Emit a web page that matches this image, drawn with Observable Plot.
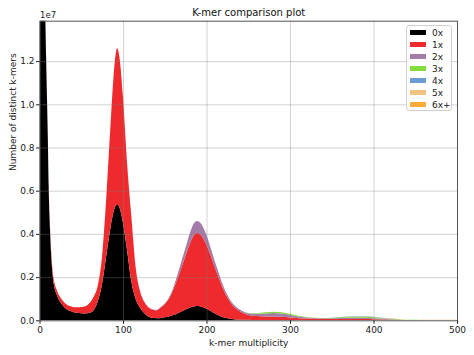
<!DOCTYPE html>
<html>
<head>
<meta charset="utf-8">
<script src="https://cdn.jsdelivr.net/npm/d3@7"></script>
<script src="https://cdn.jsdelivr.net/npm/@observablehq/plot@0.6"></script>
<style>
  body { margin: 0; background: #fff; }
  #wrap { position: relative; width: 474px; height: 355px; font-family: "DejaVu Sans", sans-serif; }
  #legend { position: absolute; left: 406px; top: 25px; width: 46px; height: 86px; border: 1px solid #d0d0d0; border-radius: 3px; background: rgba(255,255,255,0.85); box-sizing: border-box; }
  .row { position: absolute; left: 0; height: 12px; }
  .sw { position: absolute; left: 3px; width: 16px; height: 5.5px; }
  .lb { position: absolute; left: 25px; font-size: 9px; color: #222; line-height: 12px; white-space: nowrap; }
</style>
</head>
<body>
<div id="wrap"><div id="chart"></div><div id="legend"></div></div>
<script>
// k-mer multiplicity sample positions (shared by 0x, 1x, 2x)
const mult = [0,1,2,3,4,5,6,7,8,9,10,11,12,13,14,16,18,20,24,28,32,36,40,45,50,55,60,65,70,75,80,85,90,93,96,100,105,110,115,120,125,130,135,140,145,150,155,160,165,170,175,180,185,188,192,196,200,205,210,215,220,225,230,240,250,260,270,280,290,300,310,320,330,340,350,360,370,380,390,400,410,420,430,440,450,460,470,480,490,500];
// values in units of 1e7 distinct k-mers
const copy0x = [20,8,5,3.5,2.6,2.0,1.6,1.4,1.2,1.02,0.84,0.62,0.48,0.38,0.3,
  0.2,0.15,0.125,
  0.09,0.068,0.052,0.044,0.039,
  0.035,0.033,0.032,0.035,0.048,0.09,0.17,0.3,0.43,0.52,
  0.537,0.52,0.45,
  0.32,0.18,0.1,0.06,0.035,0.018,0.012,0.01,
  0.011,0.014,0.018,0.024,0.032,0.041,0.05,0.058,0.064,
  0.066,0.065,0.06,0.053,
  0.043,0.032,0.022,0.014,0.009,0.006,
  0.003,0.002,0.001,0.001,0.001,0.001,0.001,0,0,0,0,0,0,0,0,0,0,0,0,0,0,0,0,0,0,0,0];
const copy1x = [0,0.01,0.01,0.01,0.01,0.01,0.01,0.012,0.012,0.013,0.014,0.015,0.016,0.017,0.018,
  0.02,0.021,0.022,
  0.022,0.022,0.022,0.022,0.023,
  0.025,0.028,0.033,0.045,0.062,0.075,0.13,0.27,0.47,0.67,
  0.723,0.69,0.58,
  0.40,0.30,0.15,0.08,0.053,0.044,0.038,0.036,
  0.047,0.061,0.082,0.116,0.158,0.204,0.25,0.297,0.331,
  0.339,0.335,0.32,0.297,
  0.257,0.213,0.173,0.131,0.096,0.069,
  0.039,0.023,0.019,0.017,0.017,0.015,0.012,0.01,0.008,0.007,0.006,0.006,0.006,0.006,0.006,0.006,0.005,0.004,0.003,0.002,0.001,0.001,0,0,0,0,0];
const copy2x = [0,0,0,0,0,0,0,0,0,0,0,0,0,0,0,
  0,0,0,
  0,0,0,0,0,
  0,0,0,0,0,0,0,0,0,0,
  0,0,0,
  0.003,0.004,0.004,0.003,0.002,0.002,0.002,0.002,
  0.003,0.004,0.006,0.01,0.018,0.028,0.038,0.048,0.054,
  0.055,0.054,0.05,0.045,
  0.035,0.027,0.02,0.015,0.012,0.01,
  0.008,0.008,0.01,0.014,0.016,0.015,0.012,0.008,0.005,0.004,0.004,0.004,0.005,0.006,0.006,0.006,0.005,0.004,0.002,0.001,0,0,0,0,0,0,0];
// higher copy numbers only appear in the tail
const tailMult = [240,250,260,270,280,290,300,310,320,330,340,350,360,370,380,390,400,410,420,430,440,450,460,470,480,490,500];
const copy3x = [0,0.001,0.003,0.005,0.006,0.006,0.005,0.003,0.002,0.001,0.001,0.002,0.003,0.004,0.005,0.005,0.004,0.003,0.002,0.002,0.001,0.001,0.001,0.001,0.001,0.001,0.001];
const copy4x = [0,0,0,0,0,0,0,0,0,0,0,0,0.001,0.002,0.002,0.002,0.002,0.001,0.001,0,0,0,0,0,0,0,0];
const copy5x = [0,0,0,0,0,0,0,0,0,0,0,0,0,0,0.001,0.001,0.001,0.001,0.001,0.001,0.001,0.001,0.001,0.001,0.001,0.001,0.001];
const copy6x = [0,0,0,0,0,0,0,0,0,0,0,0,0,0,0,0,0,0,0,0,0,0,0,0,0,0,0];

const seriesNames = ["0x","1x","2x","3x","4x","5x","6x+"];
const seriesColors = ["#000000","#ee2a2c","#a47ca8","#84db3c","#6e9bd3","#f2c47f","#fdac3a"];
const xTicks = [0,100,200,300,400,500];
const yTicks = [0,0.2,0.4,0.6,0.8,1.0,1.2];

const table = [];
[[copy0x, mult],[copy1x, mult],[copy2x, mult],[copy3x, tailMult],[copy4x, tailMult],[copy5x, tailMult],[copy6x, tailMult]]
  .forEach(([vals, xs], i) => vals.forEach((v, j) => table.push({mult: xs[j], count: v, copy: seriesNames[i]})));

const chart = Plot.plot({
  width: 474, height: 355,
  marginTop: 20.7, marginLeft: 39.5, marginRight: 17, marginBottom: 34.7,
  style: {fontFamily: "DejaVu Sans", fontSize: "9px", color: "#222", background: "#fff"},
  x: {domain: [0, 500]},
  y: {domain: [0, 1.387]},
  color: {domain: seriesNames, range: seriesColors},
  marks: [
    Plot.areaY(table, {x: "mult", y: "count", fill: "copy", z: "copy", order: seriesNames, curve: "monotone-x", clip: true}),
    Plot.gridX(xTicks.slice(1, -1), {stroke: "#808080", strokeOpacity: 0.35}),
    Plot.gridY(yTicks.slice(1), {stroke: "#808080", strokeOpacity: 0.35}),
    Plot.frame({stroke: "#555"}),
    Plot.axisX(xTicks, {label: null, tickSize: 3.5, tickPadding: 2, fontSize: 9}),
    Plot.axisY(yTicks, {label: null, tickSize: 3.5, tickPadding: 2, fontSize: 9, tickFormat: d => d.toFixed(1)}),
    Plot.text(["K-mer comparison plot"], {text: d => d, frameAnchor: "top", dy: -12, fontSize: 10, fill: "#111"}),
    Plot.text(["1e7"], {text: d => d, frameAnchor: "top-left", dy: -9, textAnchor: "start", fontSize: 8.5, fill: "#222"}),
    Plot.text(["Number of distinct k-mers"], {text: d => d, frameAnchor: "left", rotate: -90, dx: -27, fontSize: 9, fill: "#222"}),
    Plot.text(["k-mer multiplicity"], {text: d => d, frameAnchor: "bottom", dy: 25, fontSize: 9, fill: "#222"})
  ]
});
document.getElementById("chart").appendChild(chart);

const legend = document.getElementById("legend");
seriesNames.forEach((name, i) => {
  const row = document.createElement("div");
  row.className = "row";
  row.style.top = (0.7 + 12 * i) + "px";
  const sw = document.createElement("div");
  sw.className = "sw";
  sw.style.background = seriesColors[i];
  sw.style.top = "3.3px";
  const lb = document.createElement("div");
  lb.className = "lb";
  lb.textContent = name;
  row.appendChild(sw); row.appendChild(lb);
  legend.appendChild(row);
});
</script>
</body>
</html>
